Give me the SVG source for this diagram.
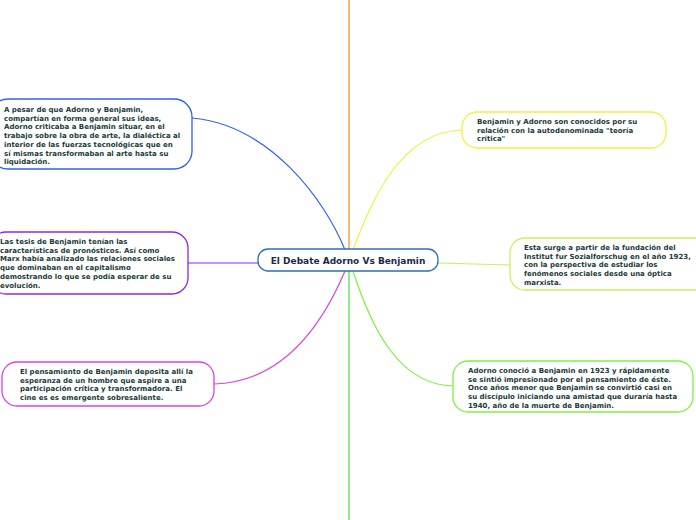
<svg xmlns="http://www.w3.org/2000/svg" width="696" height="520" viewBox="0 0 696 520">
<style>
.n{fill:#fff;stroke-width:1.3}
.t{font-family:"DejaVu Sans",sans-serif;font-weight:bold;font-size:7px;fill:#1a3a3a}
.c{fill:none;stroke-width:1.2}
</style>
<rect width="696" height="520" fill="#fff"/>
<g id="connectors">
<path class="c" stroke="#f08a1c" d="M349,0 L349,250"/>
<path class="c" stroke="#40e040" d="M349,271 L349,520"/>
<path class="c" stroke="#3060f0" d="M345,250 C325,200 270,125 192,118"/>
<path class="c" stroke="#8a2be2" d="M258,263 L188,263"/>
<path class="c" stroke="#e040e0" d="M345,271 C320,330 280,382 214,384"/>
<path class="c" stroke="#f0f040" d="M353,250 C372,200 400,132 462,130"/>
<path class="c" stroke="#c8f060" d="M438,263 L510,265"/>
<path class="c" stroke="#80f040" d="M353,271 C372,330 400,385 453,386"/>
</g>
<g id="center">
<rect class="n" x="258" y="249" width="180" height="22" rx="10" stroke="#2a6fb6"/>
<text x="348" y="264" text-anchor="middle" style="font-family:'DejaVu Sans',sans-serif;font-weight:bold;font-size:9px;fill:#1a2a4a">El Debate Adorno Vs Benjamin</text>
</g>
<g id="nodeA">
<rect class="n" x="-10" y="99" width="202" height="70" rx="18" stroke="#3060f0"/>
<text class="t"><tspan x="4" y="112">A pesar de que Adorno y Benjamin,</tspan><tspan x="4" y="120.7">compartían en forma general sus ideas,</tspan><tspan x="4" y="129.4">Adorno criticaba a Benjamin situar, en el</tspan><tspan x="4" y="138.1">trabajo sobre la obra de arte, la dialéctica al</tspan><tspan x="4" y="146.8">interior de las fuerzas tecnológicas que en</tspan><tspan x="4" y="155.5">sí mismas transformaban al arte hasta su</tspan><tspan x="4" y="164.2">liquidación.</tspan></text>
</g>
<g id="nodeB">
<rect class="n" x="-10" y="232" width="198" height="62" rx="16" stroke="#8a2be2"/>
<text class="t"><tspan x="0" y="244">Las tesis de Benjamin tenían las</tspan><tspan x="0" y="252.7">características de pronósticos. Así como</tspan><tspan x="0" y="261.4">Marx había analizado las relaciones sociales</tspan><tspan x="0" y="270.1">que dominaban en el capitalismo</tspan><tspan x="0" y="278.8">demostrando lo que se podía esperar de su</tspan><tspan x="0" y="287.5">evolución.</tspan></text>
</g>
<g id="nodeC">
<rect class="n" x="2" y="362" width="212" height="44" rx="15" stroke="#e040e0"/>
<text class="t"><tspan x="20" y="374">El pensamiento de Benjamin deposita allí la</tspan><tspan x="20" y="382.7">esperanza de un hombre que aspire a una</tspan><tspan x="20" y="391.4">participación crítica y transformadora. El</tspan><tspan x="20" y="400.1">cine es es emergente sobresaliente.</tspan></text>
</g>
<g id="nodeD">
<rect class="n" x="462" y="112" width="204" height="36" rx="15" stroke="#f0f040"/>
<text class="t"><tspan x="477" y="124">Benjamin y Adorno son conocidos por su</tspan><tspan x="477" y="132.7">relación con la autodenominada "teoría</tspan><tspan x="477" y="141.4">crítica"</tspan></text>
</g>
<g id="nodeE">
<rect class="n" x="510" y="238" width="200" height="52" rx="15" stroke="#c8f060"/>
<text class="t"><tspan x="524" y="250">Esta surge a partir de la fundación del</tspan><tspan x="524" y="258.7">Institut fur Sozialforschug en el año 1923,</tspan><tspan x="524" y="267.4">con la perspectiva de estudiar los</tspan><tspan x="524" y="276.1">fenómenos sociales desde una óptica</tspan><tspan x="524" y="284.8">marxista.</tspan></text>
</g>
<g id="nodeF">
<rect class="n" x="453" y="361" width="240" height="51" rx="15" stroke="#80f040"/>
<text class="t"><tspan x="468" y="373">Adorno conoció a Benjamin en 1923 y rápidamente</tspan><tspan x="468" y="381.7">se sintió impresionado por el pensamiento de éste.</tspan><tspan x="468" y="390.4">Once años menor que Benjamin se convirtió casi en</tspan><tspan x="468" y="399.1">su discípulo iniciando una amistad que duraría hasta</tspan><tspan x="468" y="407.8">1940, año de la muerte de Benjamin.</tspan></text>
</g>
</svg>
